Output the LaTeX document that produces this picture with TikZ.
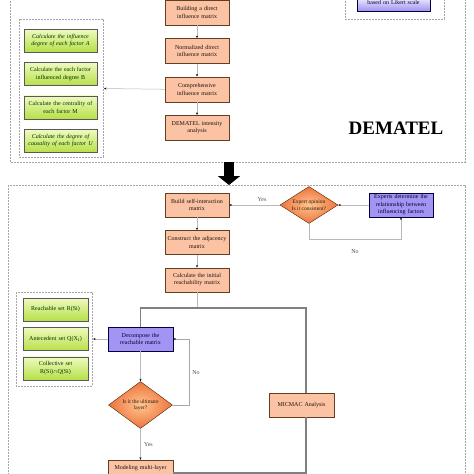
\documentclass[tikz,border=0pt]{standalone}
\usepackage{fontspec}
\setmainfont{Liberation Serif}
\usetikzlibrary{positioning, shapes.geometric, arrows.meta}

\definecolor{peach}{HTML}{FBC2A4}
\definecolor{lavend}{HTML}{A294F2}
\definecolor{orng}{HTML}{EE7340}
\definecolor{limeL}{HTML}{F0FAC0}
\definecolor{limeD}{HTML}{B6E048}

\tikzset{
  proc/.style={rectangle, draw=brown!50!black, fill=peach, minimum width=64pt, minimum height=24pt, text width=60pt, inner sep=1pt, align=center, font=\fontsize{6}{7.5}\selectfont, text=black!85!brown},
  purp/.style={proc, draw=blue!25!black, fill=lavend, text=blue!20!black},
  calc/.style={rectangle, draw=gray!70!black, top color=limeL, bottom color=limeD, minimum width=73pt, minimum height=23pt, text width=68pt, inner sep=1pt, align=center, font=\fontsize{6}{7.5}\selectfont, text=black!80!green},
  decide/.style={diamond, draw=black!70!orange, inner color=orange!45!white, outer color=orng, aspect=1.5, inner sep=-3pt, align=center, font=\fontsize{5.5}{6.5}\selectfont, text=black!80!brown},
  grp/.style={draw=gray!70, dash pattern=on 2pt off 1pt, line width=0.6pt},
  conn/.style={draw=gray!55, line width=0.5pt, -{Stealth[length=2.5pt, width=2pt, black]}},
  frame/.style={draw=black!50, line width=1.4pt},
  lbl/.style={font=\fontsize{6}{7}\selectfont, text=black!70}
}

\begin{document}
\begin{tikzpicture}[x=1pt, y=-1pt]
\useasboundingbox (0,0) rectangle (474,474);

% DEMATEL part
\draw[grp] (10,-5) rectangle (465,162);
\draw[grp] (345,-5) rectangle (444,19);
\node[purp, top color=white, bottom color=lavend, minimum width=73pt, text width=70pt, minimum height=16pt, anchor=south] (likert) at (393.5,11) {based on Likert scale};

\node[proc, minimum height=25pt] (build) at (197,12.5) {Building a direct\\influence matrix};
\node[proc, minimum height=25pt, below=13pt of build] (norm) {Normalized direct\\influence matrix};
\node[proc, minimum height=25pt, below=13pt of norm] (comp) {Comprehensive\\influence matrix};
\node[proc, minimum height=25pt, below=13pt of comp] (inten) {DEMATEL intensity\\analysis};

\draw[grp] (19,19) rectangle (103,157);
\node[calc, font=\fontsize{6}{7.5}\selectfont\itshape] (degA) at (60.5,40.5) {Calculate the influence\\degree of each factor A};
\node[calc, below=10pt of degA] (degB) {Calculate the each factor\\influenced degree B};
\node[calc, below=10pt of degB] (centM) {Calculate the centrality of\\each factor M};
\node[calc, font=\fontsize{6}{7.5}\selectfont\itshape, below=10pt of centM] (causU) {Calculate the degree of\\causality of each factor U};
\coordinate (grpA) at (104,88.5);

\draw[conn] (build) -- (norm);
\draw[conn] (norm) -- (comp);
\draw[conn] (comp) -- (inten);
\draw[conn] (comp.west) -- (grpA);

\node[font=\fontsize{19}{19}\selectfont\bfseries] (dematel) at (396,128) {DEMATEL};

% transition
\coordinate (demB) at (229,162);
\coordinate (ismT) at (229,185);
\draw[line width=10pt, -{Triangle[width=22pt, length=9pt]}] (demB) -- (ismT);

% ISM part
\draw[grp] (8,185) rectangle (465,480);

\node[proc] (selfm) at (197,205) {Build self-interaction\\matrix};
\node[proc, below=13pt of selfm] (adj) {Construct the adjacency\\matrix};
\node[proc, below=13pt of adj] (reach) {Calculate the initial\\reachability matrix};
\node[decide, minimum width=58pt, minimum height=37pt] (expop) at (309,205) {Expert opinion\\Is it consistent?};
\node[purp] (expdet) at (401,205) {Experts determine the\\relationship between\\influencing factors};

\draw[conn] (expdet.west) -- (expop.east);
\draw[conn] (expop.west) -- node[lbl, above, pos=0.35] {Yes} (selfm.east);
\draw[conn] (expop.south) -- ++(0,16) -| (expdet.south);
\node[lbl] (no1) at (355,252) {No};
\draw[conn] (selfm) -- (adj);
\draw[conn] (adj) -- (reach);

\coordinate (fl) at (140.5,308);
\coordinate (fr) at (306,308);
\coordinate (fb) at (306,473);
\draw[draw=gray!55, line width=0.5pt] (reach.south) -- (reach.south |- fl);

\node[purp, minimum width=65pt] (decomp) at (140.5,339) {Decompose the\\reachable matrix};
\node[decide, minimum width=64pt, minimum height=47pt] (ult) at (140.5,405) {Is it the ultimate\\layer?};
\node[proc, minimum width=65pt, minimum height=26pt, text depth=12pt] (model) at (140.5,473) {Modeling multi-layer};
\node[proc, minimum width=65pt] (micmac) at (301.5,405) {MICMAC Analysis};

\draw[frame] (decomp.north) -- (fl) -- (fr) -- (fr |- micmac.north);
\draw[frame] (fb |- micmac.south) -- (fb) -- (model.east);

\draw[conn] (decomp) -- (ult);
\draw[conn, draw=gray!70, line width=0.7pt] (ult.east) -- (189,405) |- (decomp.east);
\node[lbl] (no2) at (196,373) {No};
\draw[conn] (ult.south) -- node[lbl, right, pos=0.5] {Yes} (model.north);

\draw[grp] (16,292) rectangle (92,386);
\node[calc, minimum width=65pt, text width=62pt] (rset) at (55.5,309.5) {Reachable set R(Si)};
\node[calc, minimum width=65pt, text width=62pt, below=6pt of rset] (aset) {Antecedent set Q(X\textsubscript{i})};
\node[calc, minimum width=65pt, text width=62pt, below=6pt of aset] (cset) {Collective set\\R(Si)∩Q(Si)};
\coordinate (grpB) at (93,339);
\draw[conn] (decomp.west) -- (grpB);
\end{tikzpicture}
\end{document}
